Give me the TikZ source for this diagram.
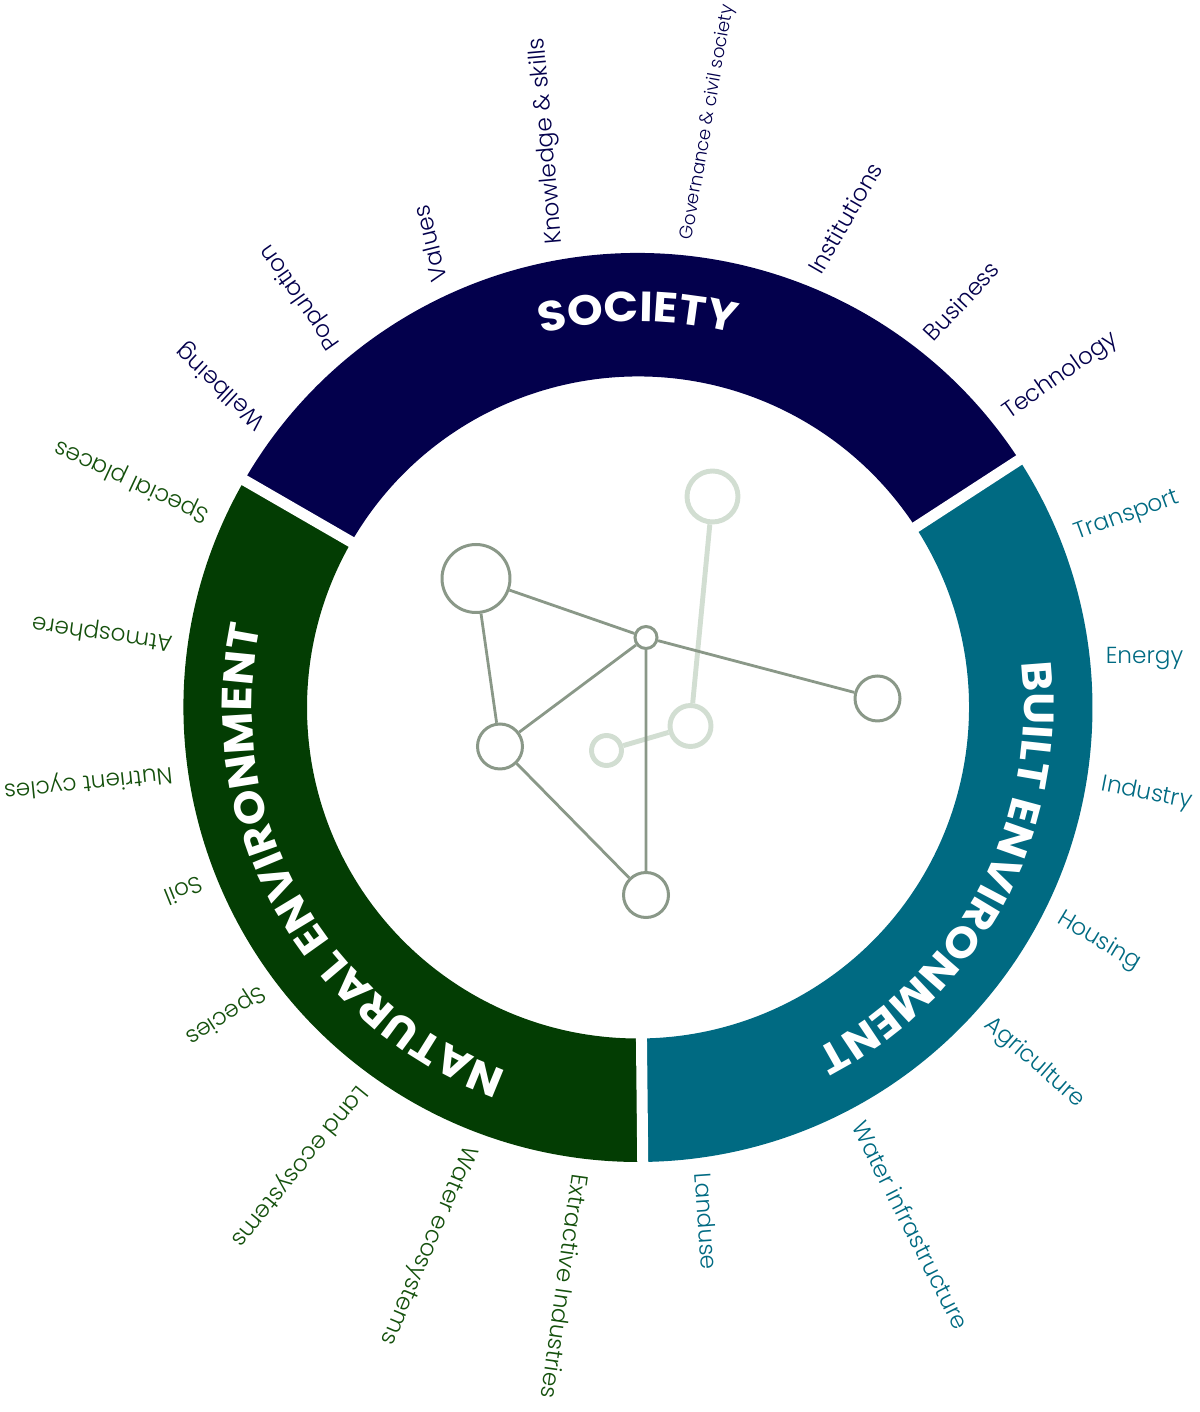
\documentclass[tikz,border=0pt]{standalone}
\usepackage{fontspec}
\IfFontExistsTF{Poppins Light}{\setmainfont{Poppins Light}}{\setmainfont{Poppins}}
\newfontfamily\titlefont{Poppins}[FakeStretch=1.08]
\usetikzlibrary{decorations.text}
\definecolor{societyblue}{RGB}{3,0,76}
\definecolor{naturegreen}{RGB}{3,61,3}
\definecolor{naturetext}{RGB}{20,80,12}
\definecolor{builtteal}{RGB}{0,106,130}
\definecolor{netgray}{RGB}{138,152,136}
\definecolor{netfaint}{RGB}{210,222,210}

\begin{document}
\begin{tikzpicture}[
  factor/.style={anchor=west,inner sep=0pt,font=\fontsize{13.2}{16}\selectfont},
  ringtext/.style={decorate,decoration={text along path,text align=center,text color=white,
                   text={|\titlefont\bfseries\fontsize{24}{24}\selectfont|#1}}},
  hub/.style={circle,draw=netgray,line width=1.7pt,fill=white,inner sep=0pt},
  faint/.style={circle,draw=netfaint,line width=2.8pt,fill=white,inner sep=0pt},
  link/.style={draw=netgray,line width=1.6pt},
  fadelink/.style={draw=netfaint,line width=2.8pt}
]
\useasboundingbox (-12.76,-14.09) rectangle (11.24,14.15);

% ring
\fill[societyblue] (33:9.09) arc[start angle=33,end angle=150,radius=9.09]
  -- (150:6.62) arc[start angle=150,end angle=33,radius=6.62] -- cycle;
\fill[naturegreen] (150:9.09) arc[start angle=150,end angle=270.6,radius=9.09]
  -- (270.6:6.62) arc[start angle=270.6,end angle=150,radius=6.62] -- cycle;
\fill[builtteal] (270.6:9.09) arc[start angle=270.6,end angle=393,radius=9.09]
  -- (393:6.62) arc[start angle=393,end angle=270.6,radius=6.62] -- cycle;
\foreach \g in {33,150,270.6}
  \draw[white,line width=0.22cm] (\g:6.4) -- (\g:9.3);

\path[ringtext=SOCIETY] (150:7.72) arc[start angle=150,end angle=30,radius=7.72];
\path[ringtext=BUILT ENVIRONMENT] (32:7.72) arc[start angle=32,end angle=-88,radius=7.72];
\path[ringtext=NATURAL ENVIRONMENT] (269:7.72) arc[start angle=269,end angle=149,radius=7.72];

% factors round the ring
\foreach \p/\r/\t [count=\i] in {38.5/35/Technology,52/47/Business,68/60/Institutions,
    84/80/{\fontsize{10.4}{12}\selectfont Governance \& civil society},100/95/Knowledge \& skills,
    115/104/Values,130/125/Population,143/137/Wellbeing}
  \node[factor,text=societyblue,rotate=\r] (soc\i) at (\p:9.4) {\t};
\foreach \p/\r/\t [count=\i] in {21.5/20/Transport,6/0/Energy,-9.5/-11/Industry,
    -26.5/-31/Housing,-42/-41/Agriculture,-62/-63/Water infrastructure,-82/-86/Landuse}
  \node[factor,text=builtteal,rotate=\r] (blt\i) at (\p:9.4) {\t};
\foreach \p/\r/\t [count=\i] in {263/262/Extractive Industries,249/247/Water ecosystems,
    234/231/Land ecosystems,217/213/Species,202/202/Soil,188/186/Nutrient cycles,
    172/172/Atmosphere,156/155/Special places}
  \node[factor,text=naturetext,rotate=\r] (nat\i) at (\p:9.4) {\t};

% network in the middle
\node[faint,minimum size=1.02cm] (f1) at (1.49,4.22) {};
\node[faint,minimum size=0.82cm] (f2) at (1.05,-0.37) {};
\node[faint,minimum size=0.6cm] (f3) at (-0.63,-0.86) {};
\draw[fadelink] (f1) -- (f2);
\draw[fadelink] (f2) -- (f3);
\node[hub,minimum size=1.36cm] (n1) at (-3.24,2.58) {};
\node[hub,minimum size=0.44cm] (n2) at (0.16,1.40) {};
\node[hub,minimum size=0.9cm] (n3) at (4.79,0.18) {};
\node[hub,minimum size=0.9cm] (n4) at (-2.76,-0.78) {};
\node[hub,minimum size=0.9cm] (n5) at (0.16,-3.75) {};
\draw[link] (n1) -- (n2) (n1) -- (n4) (n2) -- (n3) (n2) -- (n4) (n2) -- (n5) (n4) -- (n5);
\end{tikzpicture}
\end{document}
